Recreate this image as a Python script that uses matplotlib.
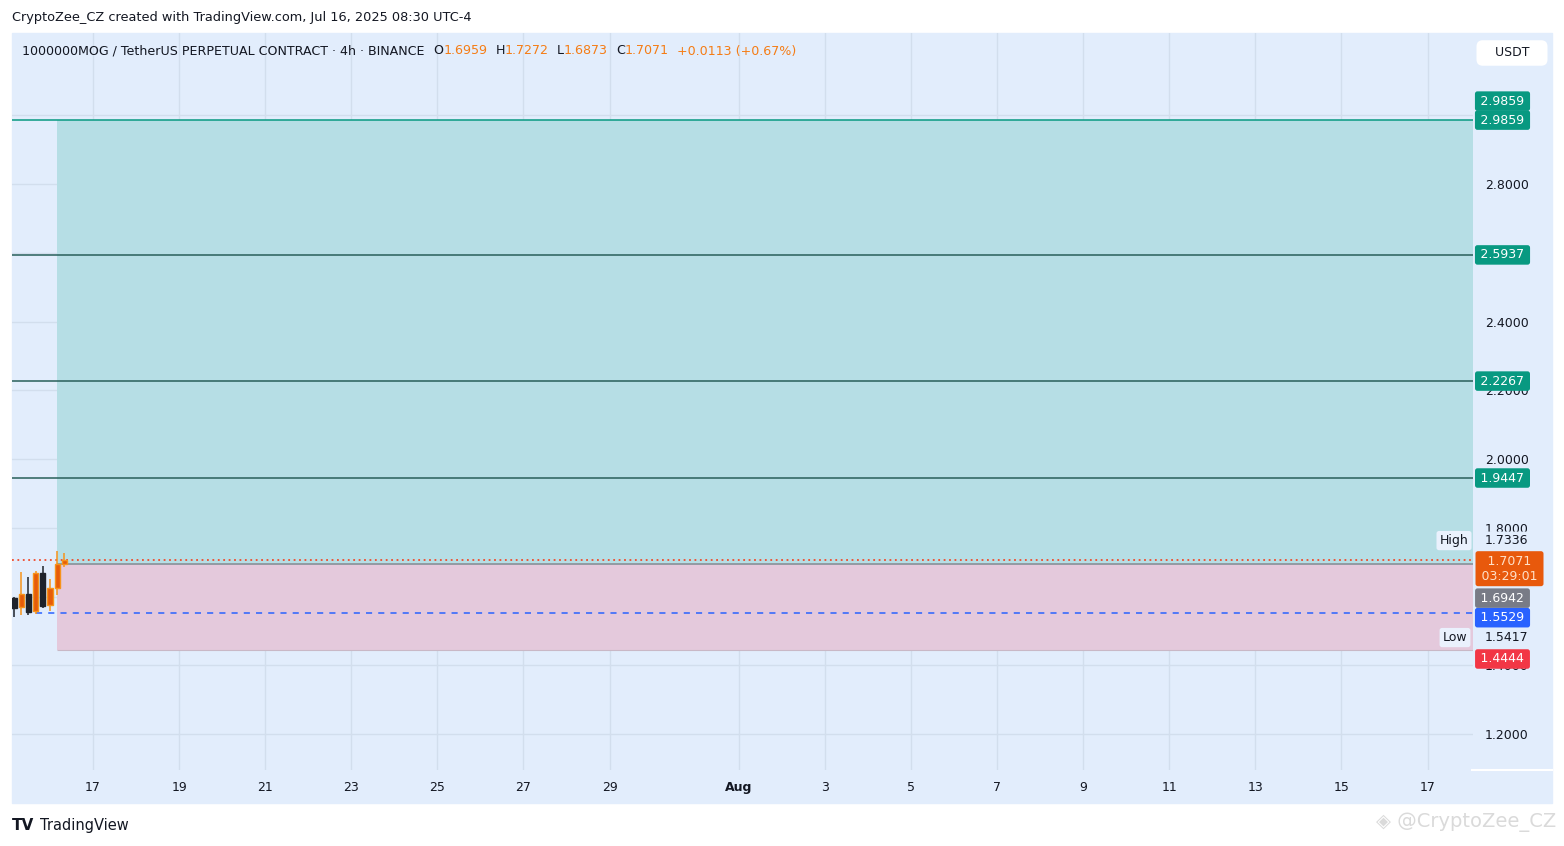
import numpy as np
import pandas as pd
import matplotlib
matplotlib.use("Agg")
import matplotlib.pyplot as plt
import matplotlib.dates as mdates
from matplotlib.patches import Rectangle
from matplotlib.lines import Line2D

# 4h candles, UTC-4
candle_times = pd.to_datetime(["2025-07-15 04:00", "2025-07-15 08:00", "2025-07-15 12:00",
                               "2025-07-15 16:00", "2025-07-15 20:00", "2025-07-16 00:00",
                               "2025-07-16 04:00", "2025-07-16 08:00"])
opens = [1.5956, 1.5695, 1.6073, 1.5578, 1.6680, 1.5753, 1.6247, 1.6959]
highs = [1.5985, 1.6713, 1.6567, 1.6742, 1.6887, 1.6510, 1.7336, 1.7272]
lows = [1.5417, 1.5462, 1.5462, 1.5491, 1.5665, 1.5578, 1.6044, 1.6873]
closes = [1.5665, 1.6073, 1.5549, 1.6680, 1.5724, 1.6247, 1.6959, 1.7071]

# long position tool
position_start = pd.Timestamp("2025-07-16 04:00")
entry_price = 1.6942
target_price = 2.9859
stop_price = 1.4444
target_levels = [2.9859, 2.5937, 2.2267, 1.9447]

last_price = 1.7071
countdown = "03:29:01"
blue_level = 1.5529
blue_start = pd.Timestamp("2025-07-15 16:00")
visible_high = 1.7336
visible_low = 1.5417

y_ticks = [1.2, 1.4, 1.6, 1.8, 2.0, 2.2, 2.4, 2.6, 2.8, 3.0]
# labels that sit fully under a price tag are not shown
y_hidden = [1.6, 2.6, 3.0]
x_ticks = pd.to_datetime(["2025-07-17", "2025-07-19", "2025-07-21", "2025-07-23", "2025-07-25",
                          "2025-07-27", "2025-07-29", "2025-08-01", "2025-08-03", "2025-08-05",
                          "2025-08-07", "2025-08-09", "2025-08-11", "2025-08-13", "2025-08-15",
                          "2025-08-17"])
x_tick_labels = ["17", "19", "21", "23", "25", "27", "29", "Aug", "3", "5", "7", "9", "11",
                 "13", "15", "17"]

x_start = pd.Timestamp("2025-07-15 02:51")
x_end = pd.Timestamp("2025-08-18 01:21")
y_range = (1.0953, 3.2393)

BG = "#e2edfc"
TEXT = "#131722"
ORANGE_TXT = "#f57c14"
W, H = 1564, 846

fig = plt.figure(figsize=(W / 100, H / 100), dpi=100)
fig.patch.set_facecolor("white")
fig.patches.append(Rectangle((12 / W, 1 - 803 / H), (1552 - 12) / W, (803 - 33) / H,
                             transform=fig.transFigure, color=BG, zorder=-1))

ax = fig.add_axes([12 / W, 1 - 770 / H, 1461 / W, 737 / H])
ax.patch.set_visible(False)
for s in ax.spines.values():
    s.set_visible(False)

xs = mdates.date2num(candle_times)
x0 = mdates.date2num(x_start)
x1 = mdates.date2num(x_end)
ax.set_xlim(x0, x1)
ax.set_ylim(*y_range)

ax.set_axisbelow(True)
ax.grid(color="#d2deed", lw=1)

# position tool boxes
ps = mdates.date2num(position_start)
ax.add_patch(Rectangle((ps, entry_price), x1 - ps, target_price - entry_price,
                       color="#b6dee5", lw=0, zorder=1))
ax.add_patch(Rectangle((ps, stop_price), x1 - ps, entry_price - stop_price,
                       color="#e4c9dc", lw=0, zorder=1))
ax.hlines(entry_price, ps, x1, color="#8d969e", lw=1.3, zorder=2)
ax.hlines(stop_price, ps, x1, color="#c9b8c6", lw=0.8, zorder=2)

for i, lv in enumerate(target_levels):
    ax.axhline(lv, color="#089981" if i == 0 else "#285f5a", lw=1.1, zorder=2)

ax.hlines(blue_level, mdates.date2num(blue_start), x1, color="#2962ff", lw=1.1,
          linestyles=(0, (4, 4)), zorder=2)
ax.axhline(last_price, color="#f04a2a", lw=1.3, ls=(0, (1, 2)), zorder=2)

# candles
w = 0.72 * 4 / 24
for x, o, h, l, c in zip(xs, opens, highs, lows, closes):
    up = c >= o
    wick = "#f7931a" if up else "#1f232b"
    fill = "#e65c0a" if up else "#1f232b"
    ax.vlines(x, l, h, color=wick, lw=1.1, zorder=3)
    ax.bar(x, max(abs(c - o), 0.002), bottom=min(o, c), width=w, color=fill,
           edgecolor=wick, lw=1, zorder=4)

# axes ticks
ax.yaxis.tick_right()
ax.set_yticks(y_ticks)
ax.set_yticklabels(["" if v in y_hidden else f"{v:.4f}" for v in y_ticks])
ax.tick_params(axis="y", length=0, pad=8.5, labelsize=9, labelcolor=TEXT)
ax.set_xticks(mdates.date2num(x_ticks))
ax.set_xticklabels(x_tick_labels)
ax.tick_params(axis="x", length=0, pad=8, labelsize=9, labelcolor=TEXT)
ax.get_xticklabels()[7].set_fontweight("bold")

ytr = ax.get_yaxis_transform()


def price_tag(price, text, bg, fg, dx, dy, ha="center", pad=0.26, size=9):
    ax.annotate(text, xy=(1, price), xycoords=ytr, xytext=(dx, dy),
                textcoords="offset pixels", ha=ha, va="center", fontsize=size,
                color=fg, annotation_clip=False, zorder=8,
                bbox=dict(boxstyle=f"round,pad={pad},rounding_size=0.2", fc=bg, ec="none"))


green = "#089981"
sp = "\u2009"
price_tag(target_levels[0], f"{sp}{target_levels[0]:.4f}{sp}", green, "white", 29.5, 19)
for lv in target_levels:
    price_tag(lv, f"{sp}{lv:.4f}{sp}", green, "white", 29.5, 0)
price_tag(visible_high, "High", "#eaf1fd", TEXT, -19, 10, pad=0.25)
price_tag(visible_high, f"{visible_high:.4f}", BG, TEXT, 12, 10, ha="left", pad=0.2)
price_tag(last_price, f"{sp}{last_price:.4f}{sp}\n{sp}{countdown}{sp}", "#e8590c", "#ffe0c8",
          36.5, -9, pad=0.28)
price_tag(entry_price, f"{sp}{entry_price:.4f}{sp}", "#787b86", "white", 29.5, -34)
price_tag(blue_level, f"{sp}{blue_level:.4f}{sp}", "#2962ff", "white", 29.5, -5)
price_tag(visible_low, "Low", "#eaf1fd", TEXT, -18, -21, pad=0.25)
price_tag(visible_low, f"{visible_low:.4f}", BG, TEXT, 12, -21, ha="left", pad=0.2)
price_tag(stop_price, f"{sp}{stop_price:.4f}{sp}", "#f23645", "white", 29.5, -9)

# corner bits
fig.add_artist(Line2D([1472 / W, 1552 / W], [1 - 770 / H] * 2, color="white", lw=1.5))
fig.text(1512 / W, 1 - 53 / H, "   USDT   ", ha="center", va="center", fontsize=9,
         color=TEXT, bbox=dict(boxstyle="round,pad=0.5,rounding_size=0.5", fc="white", ec="none"))

# header
fig.text(12 / W, 1 - 18 / H, "CryptoZee_CZ created with TradingView.com, Jul 16, 2025 08:30 UTC-4",
         fontsize=9.3, color=TEXT, va="center")
t = fig.text(22 / W, 1 - 51 / H, "1000000MOG / TetherUS PERPETUAL CONTRACT · 4h · BINANCE",
             fontsize=9.1, color=TEXT, va="center")
pieces = [("O", TEXT, 9), ("1.6959", ORANGE_TXT, 0), ("H", TEXT, 8), ("1.7272", ORANGE_TXT, 0),
          ("L", TEXT, 8), ("1.6873", ORANGE_TXT, 0), ("C", TEXT, 8), ("1.7071", ORANGE_TXT, 0),
          ("+0.0113 (+0.67%)", ORANGE_TXT, 8)]
for s, col, gap in pieces:
    t = ax.annotate(s, xy=(1, 0), xycoords=t, xytext=(gap, 0), textcoords="offset pixels",
                    va="bottom", ha="left", fontsize=9.1, color=col, annotation_clip=False)

# footer
fig.text(12 / W, 1 - 825 / H, "TV", fontsize=11, fontweight="black", color=TEXT, va="center")
fig.text(40 / W, 1 - 825 / H, "TradingView", fontsize=10.5, color=TEXT, va="center")
fig.text(1556 / W, 1 - 822 / H, "◈ @CryptoZee_CZ", fontsize=14, color="#dadada",
         ha="right", va="center")

fig.savefig("out.png", dpi=100)
